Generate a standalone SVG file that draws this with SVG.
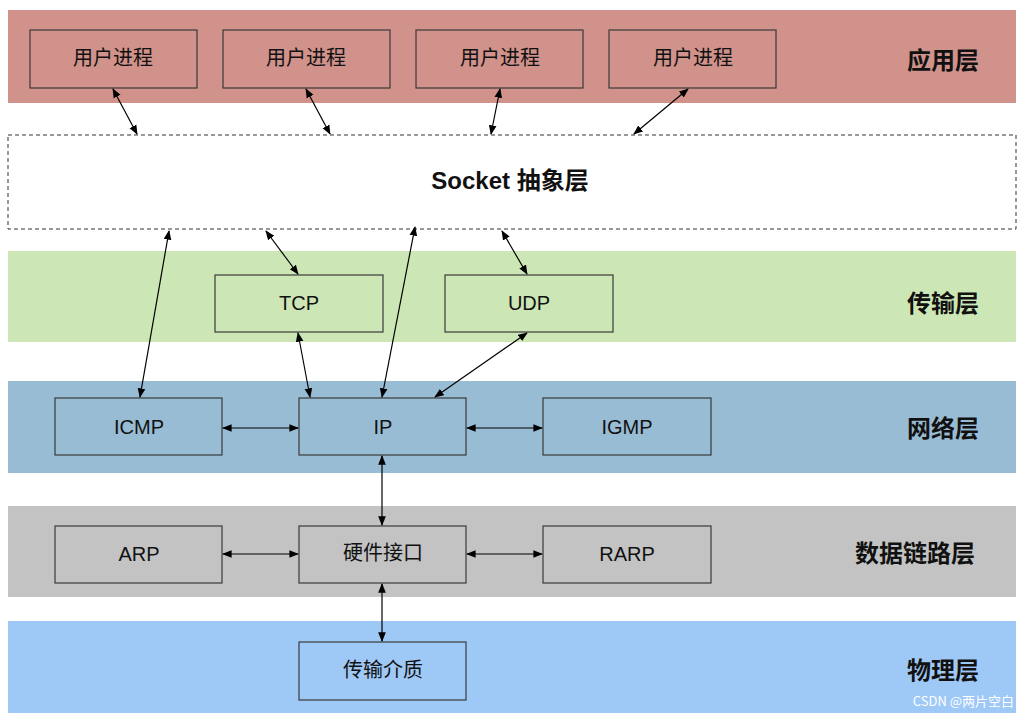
<svg xmlns="http://www.w3.org/2000/svg" width="1030" height="722" viewBox="0 0 1030 722">
<defs>
<marker id="a" viewBox="0 0 10 10" refX="9" refY="5" markerWidth="8" markerHeight="8" orient="auto-start-reverse"><path d="M0,1 L10,5 L0,9 z" fill="#000"/></marker>
<style>
.n{stroke:#3a3a3a;stroke-width:1.2}
.t{font-family:"Liberation Sans","Noto Sans CJK SC",sans-serif;font-size:20px;text-anchor:middle;dominant-baseline:central;fill:#111}
.l{font-family:"Noto Sans CJK SC",sans-serif;font-size:24px;font-weight:bold;text-anchor:middle;dominant-baseline:central;fill:#111}
.c line{stroke:#000;stroke-width:1.2;marker-start:url(#a);marker-end:url(#a)}
</style>
</defs>
<rect width="1030" height="722" fill="#fff"/>
<rect x="8" y="10" width="1008" height="93" fill="#d0928a"/>
<rect x="8" y="135" width="1008" height="94" fill="#fff" stroke="#333" stroke-dasharray="4,3"/>
<rect x="8" y="251" width="1008" height="91" fill="#cde6b5"/>
<rect x="8" y="381" width="1008" height="92" fill="#98bcd4"/>
<rect x="8" y="506" width="1008" height="91" fill="#c3c3c3"/>
<rect x="8" y="621" width="1008" height="92" fill="#9ec8f5"/>
<text class="l" x="943" y="58">应用层</text>
<text class="t" x="510" y="180" style="font-size:24px;font-weight:bold">Socket 抽象层</text>
<text class="l" x="943" y="301">传输层</text>
<text class="l" x="943" y="426">网络层</text>
<text class="l" x="915" y="551">数据链路层</text>
<text class="l" x="943" y="668">物理层</text>
<g id="p1"><rect class="n" x="30" y="30" width="167" height="58" fill="#d0928a"/><text class="t" x="113" y="58">用户进程</text></g>
<g id="p2"><rect class="n" x="223" y="30" width="167" height="58" fill="#d0928a"/><text class="t" x="306" y="58">用户进程</text></g>
<g id="p3"><rect class="n" x="416" y="30" width="167" height="58" fill="#d0928a"/><text class="t" x="500" y="58">用户进程</text></g>
<g id="p4"><rect class="n" x="609" y="30" width="167" height="58" fill="#d0928a"/><text class="t" x="693" y="58">用户进程</text></g>
<g id="tcp"><rect class="n" x="215" y="275" width="168" height="57" fill="#cde6b5"/><text class="t" x="299" y="303">TCP</text></g>
<g id="udp"><rect class="n" x="445" y="275" width="168" height="57" fill="#cde6b5"/><text class="t" x="529" y="303">UDP</text></g>
<g id="icmp"><rect class="n" x="55" y="398" width="167" height="57" fill="#98bcd4"/><text class="t" x="139" y="427">ICMP</text></g>
<g id="ip"><rect class="n" x="299" y="398" width="167" height="57" fill="#98bcd4"/><text class="t" x="383" y="427">IP</text></g>
<g id="igmp"><rect class="n" x="543" y="398" width="168" height="57" fill="#98bcd4"/><text class="t" x="627" y="427">IGMP</text></g>
<g id="arp"><rect class="n" x="55" y="526" width="167" height="57" fill="#c3c3c3"/><text class="t" x="139" y="554">ARP</text></g>
<g id="hw"><rect class="n" x="299" y="526" width="167" height="57" fill="#c3c3c3"/><text class="t" x="383" y="553">硬件接口</text></g>
<g id="rarp"><rect class="n" x="543" y="526" width="168" height="57" fill="#c3c3c3"/><text class="t" x="627" y="554">RARP</text></g>
<g id="med"><rect class="n" x="299" y="642" width="167" height="58" fill="#9ec8f5"/><text class="t" x="383" y="670">传输介质</text></g>
<g class="c">
<line x1="113" y1="89" x2="137" y2="134"/>
<line x1="306" y1="89" x2="330" y2="134"/>
<line x1="500" y1="89" x2="491" y2="134"/>
<line x1="688" y1="89" x2="634" y2="134"/>
<line x1="169" y1="231" x2="140" y2="397"/>
<line x1="266" y1="231" x2="298" y2="274"/>
<line x1="415" y1="227" x2="382" y2="397"/>
<line x1="502" y1="231" x2="527" y2="274"/>
<line x1="298" y1="333" x2="310" y2="397"/>
<line x1="527" y1="333" x2="435" y2="397"/>
<line x1="223" y1="428" x2="298" y2="428"/>
<line x1="467" y1="428" x2="542" y2="428"/>
<line x1="382" y1="456" x2="382" y2="525"/>
<line x1="223" y1="554" x2="298" y2="554"/>
<line x1="467" y1="554" x2="542" y2="554"/>
<line x1="382" y1="584" x2="382" y2="641"/>
</g>
<text x="1014" y="706" style="font-family:'Noto Sans CJK SC',sans-serif;font-size:13px;text-anchor:end;fill:#fff">CSDN @两片空白</text>
</svg>
